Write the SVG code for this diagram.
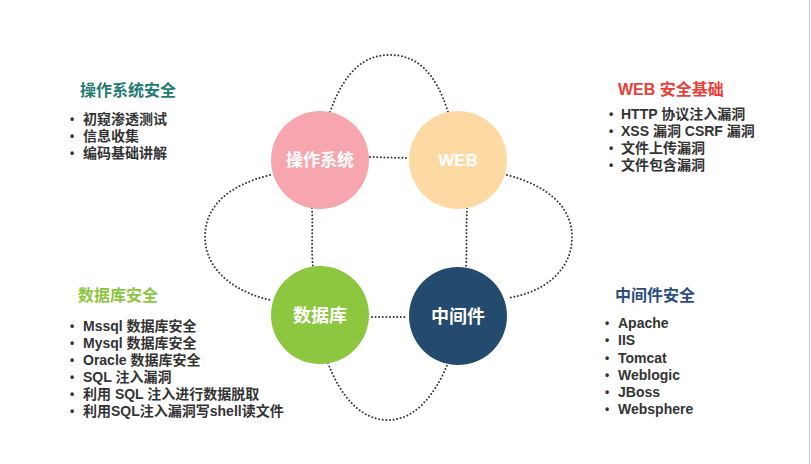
<svg xmlns="http://www.w3.org/2000/svg" width="811" height="464" viewBox="0 0 811 464">
<style>
.conn{fill:none;stroke:#333;stroke-width:2;stroke-dasharray:0 3.6;stroke-linecap:round}
.lbl{font-family:"Liberation Sans","Noto Sans CJK SC",sans-serif;font-weight:bold;fill:#fff;text-anchor:middle}
.h{font-family:"Liberation Sans","Noto Sans CJK SC",sans-serif;font-weight:bold;font-size:16px}
.it{font-family:"Liberation Sans","Noto Sans CJK SC",sans-serif;font-weight:bold;font-size:14px;fill:#333}
.b{font-family:"Liberation Sans",sans-serif;font-weight:bold;font-size:12px;fill:#333}
</style>
<rect width="811" height="464" fill="#fff"/>
<line x1="809.5" y1="0" x2="809.5" y2="464" stroke="#c8c8c8" stroke-width="1"/>
<g id="connectors">
<path class="conn" d="M330,112 C345,70 365,55 390,55 C415,55 435,70 448,112"/>
<path class="conn" d="M270,175 C230,185 205,205 205,237 C205,270 235,292 270,300"/>
<path class="conn" d="M507,175 C545,185 572,205 572,237 C572,270 545,292 508,298"/>
<path class="conn" d="M328,363 C340,395 360,420 388,420 C415,420 435,395 448,363"/>
<path class="conn" d="M370,157 L408,158"/>
<path class="conn" d="M372,317 L407,317"/>
<path class="conn" d="M312,208 C313,230 311,250 313,267"/>
<path class="conn" d="M467,208 C466,230 467,250 466,267"/>
</g>
<g id="node-os">
<circle cx="320" cy="160" r="49" fill="#F7A5AF"/>
<text class="lbl" x="320" y="166" font-size="17">操作系统</text>
</g>
<g id="node-web">
<circle cx="458" cy="160" r="49" fill="#FDDAA3"/>
<text class="lbl" x="458" y="166" font-size="17">WEB</text>
</g>
<g id="node-db">
<circle cx="320" cy="315" r="49" fill="#8DC63F"/>
<text class="lbl" x="320" y="322" font-size="18">数据库</text>
</g>
<g id="node-mw">
<circle cx="458" cy="316" r="49" fill="#244A6E"/>
<text class="lbl" x="458" y="323" font-size="18">中间件</text>
</g>
<g id="text-os">
<text class="h" x="80" y="96" fill="#1E7B72">操作系统安全</text>
<text class="b" x="70" y="123">•</text><text class="it" x="83" y="124">初窥渗透测试</text>
<text class="b" x="70" y="140">•</text><text class="it" x="83" y="141">信息收集</text>
<text class="b" x="70" y="157">•</text><text class="it" x="83" y="158">编码基础讲解</text>
</g>
<g id="text-web">
<text class="h" x="618" y="95" fill="#EB4038">WEB 安全基础</text>
<text class="b" x="609" y="118">•</text><text class="it" x="621" y="119">HTTP 协议注入漏洞</text>
<text class="b" x="609" y="135">•</text><text class="it" x="621" y="136">XSS 漏洞 CSRF 漏洞</text>
<text class="b" x="609" y="152">•</text><text class="it" x="621" y="153">文件上传漏洞</text>
<text class="b" x="609" y="169">•</text><text class="it" x="621" y="170">文件包含漏洞</text>
</g>
<g id="text-db">
<text class="h" x="78" y="301" fill="#8CC63F">数据库安全</text>
<text class="b" x="70" y="330">•</text><text class="it" x="83" y="331">Mssql 数据库安全</text>
<text class="b" x="70" y="347">•</text><text class="it" x="83" y="348">Mysql 数据库安全</text>
<text class="b" x="70" y="364">•</text><text class="it" x="83" y="365">Oracle 数据库安全</text>
<text class="b" x="70" y="381">•</text><text class="it" x="83" y="382">SQL 注入漏洞</text>
<text class="b" x="70" y="398">•</text><text class="it" x="83" y="399">利用 SQL 注入进行数据脱取</text>
<text class="b" x="70" y="415">•</text><text class="it" x="83" y="416">利用SQL注入漏洞写shell读文件</text>
</g>
<g id="text-mw">
<text class="h" x="615" y="301" fill="#2C4E7F">中间件安全</text>
<text class="b" x="605" y="327">•</text><text class="it" x="618" y="328">Apache</text>
<text class="b" x="605" y="344">•</text><text class="it" x="618" y="345">IIS</text>
<text class="b" x="605" y="362">•</text><text class="it" x="618" y="363">Tomcat</text>
<text class="b" x="605" y="379">•</text><text class="it" x="618" y="380">Weblogic</text>
<text class="b" x="605" y="396">•</text><text class="it" x="618" y="397">JBoss</text>
<text class="b" x="605" y="413">•</text><text class="it" x="618" y="414">Websphere</text>
</g>
</svg>
